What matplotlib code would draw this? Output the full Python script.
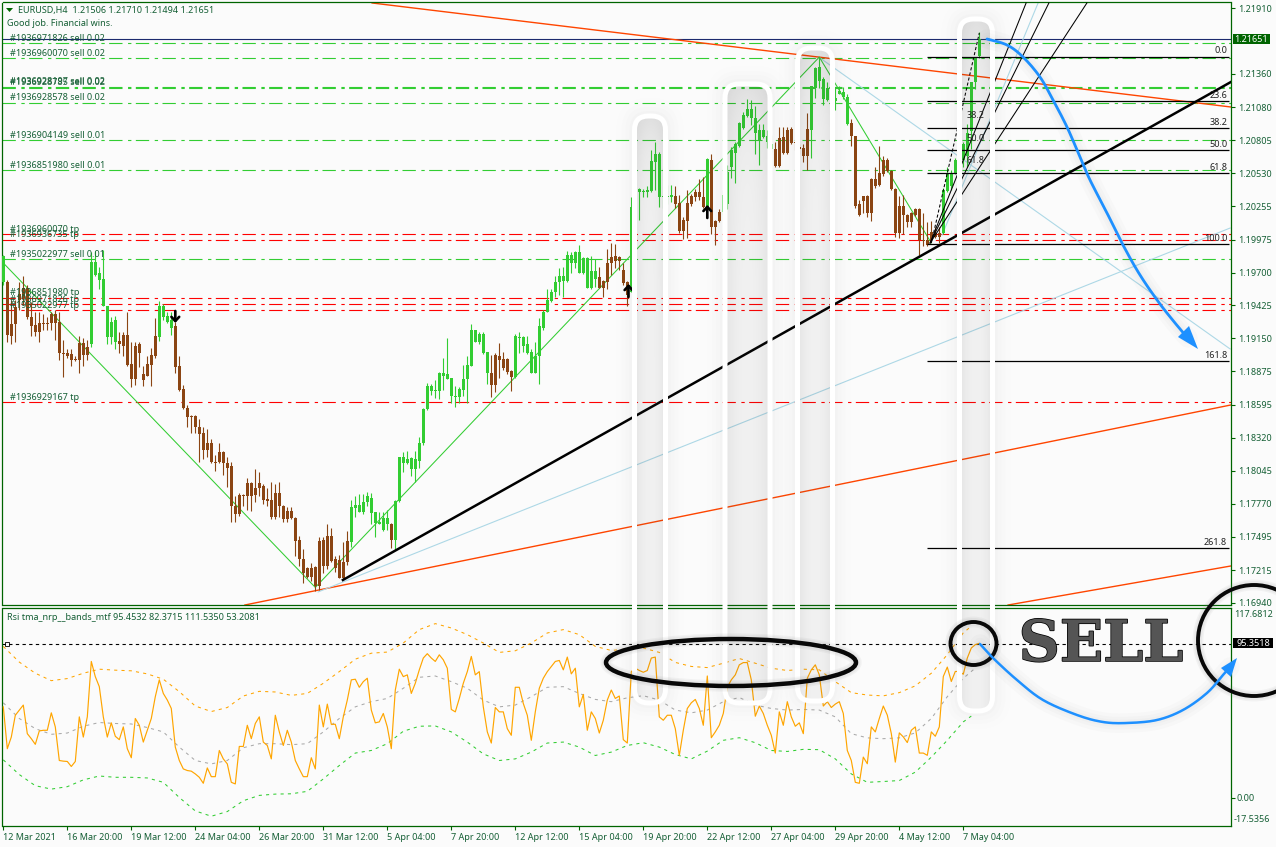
import numpy as np
import matplotlib
matplotlib.use("Agg")
import matplotlib.pyplot as plt
import matplotlib.patheffects as pe
from matplotlib.patches import FancyBboxPatch, Ellipse, Polygon, Rectangle

plt.rcParams['font.family'] = ['Noto Sans', 'DejaVu Sans']

W, H = 1276, 847
BG = '#FBFBFB'
AXIS = '#006400'
TXT = '#155f35'
UP = '#32CD32'
DOWN = '#8B4513'
FS = 6.5

# EURUSD H4 candles, in pips (1.2165 -> 12165)
opens = [
    11962,11962,11927,11941,11952,11957,11957,11933,11926,11928,
    11928,11928,11935,11935,11929,11903,11903,11902,11898,11911,
    11911,11908,11910,11968,11964,11942,11916,11916,11912,11913,
    11918,11918,11894,11909,11910,11885,11894,11901,11917,11916,
    11933,11929,11924,11925,11892,11873,11857,11850,11850,11841,
    11836,11828,11828,11812,11820,11820,11811,11808,11775,11784,
    11784,11794,11794,11790,11794,11792,11781,11780,11786,11786,
    11775,11771,11771,11765,11747,11731,11723,11723,11724,11746,
    11747,11750,11750,11731,11730,11728,11746,11745,11773,11770,
    11770,11778,11769,11761,11760,11755,11760,11760,11747,11779,
    11811,11811,11806,11806,11813,11828,11856,11871,11871,11871,
    11884,11881,11867,11866,11866,11872,11881,11892,11912,11912,
    11903,11886,11886,11901,11900,11898,11898,11888,11883,11915,
    11909,11903,11886,11886,11900,11924,11937,11946,11954,11962,
    11963,11963,11978,11978,11970,11970,11957,11957,11965,11966,
    11963,11978,11983,11984,11983,11972,11962,11954,12025,12037,
    12037,12037,12038,12062,12033,12033,12033,12033,12034,12028,
    12014,12028,12034,12037,12037,12033,12025,12064,12013,12021,
    12021,12027,12058,12070,12076,12091,12101,12099,12087,12080,
    12083,12079,12073,12073,12082,12083,12089,12090,12079,12075,
    12074,12090,12089,12124,12130,12115,12114,12113,12113,12119,
    12117,12094,12095,12084,12027,12034,12034,12048,12048,12053,
    12064,12064,12055,12040,12026,12026,12018,12020,12023,12023,
    11997,11997,12004,12003,12003,12003,12038,12042,12053,12060,
    12064,12067,12088,12129,12151]
highs = [
    11985,11964,11947,11947,11962,11967,11960,11945,11937,11937,
    11935,11933,11937,11939,11937,11914,11906,11906,11900,11917,
    11915,11914,11987,11988,11975,11989,11942,11933,11934,11920,
    11920,11937,11912,11912,11912,11892,11900,11907,11932,11946,
    11944,11937,11937,11929,11900,11876,11859,11851,11851,11848,
    11841,11839,11831,11818,11828,11821,11816,11812,11783,11786,
    11785,11798,11795,11806,11803,11793,11790,11795,11793,11795,
    11776,11774,11774,11766,11750,11739,11724,11727,11725,11749,
    11749,11760,11757,11733,11734,11745,11754,11780,11783,11785,
    11785,11787,11786,11770,11770,11770,11772,11761,11780,11816,
    11820,11821,11816,11821,11833,11857,11878,11877,11880,11887,
    11899,11915,11882,11875,11874,11893,11900,11927,11922,11920,
    11920,11904,11901,11903,11911,11904,11899,11889,11919,11920,
    11917,11917,11906,11912,11932,11939,11956,11956,11967,11974,
    11975,11988,11987,11988,11993,11983,11983,11984,11981,11975,
    11964,11990,11995,11994,11984,11978,11963,12033,12039,12041,
    12040,12042,12072,12079,12071,12057,12043,12043,12042,12035,
    12016,12039,12036,12040,12048,12050,12066,12069,12014,12023,
    12039,12060,12075,12079,12096,12104,12115,12114,12109,12094,
    12094,12089,12085,12079,12092,12092,12092,12092,12079,12077,
    12077,12103,12126,12142,12150,12133,12129,12131,12125,12126,
    12125,12119,12098,12084,12031,12034,12035,12049,12058,12076,
    12067,12066,12056,12041,12034,12035,12019,12021,12024,12024,
    12020,12012,12013,12008,12008,12041,12058,12056,12066,12073,
    12079,12094,12129,12150,12171]
lows = [
    11960,11912,11910,11912,11939,11943,11931,11917,11917,11912,
    11922,11922,11922,11914,11897,11883,11899,11892,11896,11886,
    11892,11897,11908,11967,11956,11942,11910,11910,11906,11903,
    11900,11892,11874,11876,11891,11875,11884,11875,11899,11913,
    11930,11928,11918,11886,11871,11856,11841,11836,11836,11812,
    11814,11816,11811,11804,11811,11801,11791,11762,11762,11767,
    11775,11772,11771,11778,11783,11777,11775,11764,11764,11766,
    11762,11762,11764,11733,11725,11711,11715,11712,11704,11705,
    11719,11722,11728,11720,11715,11714,11726,11741,11766,11770,
    11768,11775,11760,11749,11760,11754,11755,11740,11738,11778,
    11803,11810,11800,11795,11807,11826,11855,11868,11865,11864,
    11872,11881,11861,11858,11861,11867,11861,11892,11912,11910,
    11902,11877,11866,11870,11882,11889,11885,11871,11882,11903,
    11904,11902,11886,11886,11877,11922,11937,11945,11950,11951,
    11950,11962,11970,11974,11970,11969,11957,11956,11958,11957,
    11950,11956,11968,11974,11972,11960,11942,11954,12024,12014,
    12033,12033,12037,12039,12025,12024,12027,12029,12024,12003,
    11998,11999,12026,12030,12031,12024,12024,12002,11993,12012,
    12018,12023,12049,12045,12075,12090,12100,12093,12069,12060,
    12082,12074,12071,12058,12058,12069,12069,12077,12072,12069,
    12062,12056,12066,12116,12124,12110,12113,12111,12106,12119,
    12115,12093,12076,12024,12017,12020,12016,12013,12041,12042,
    12051,12054,12039,12000,11999,12002,12008,12008,12017,11985,
    11992,11992,11996,11999,11995,12002,12037,12039,12052,12058,
    12058,12058,12073,12123,12149]
closes = [
    11984,11918,11917,11927,11947,11949,11933,11925,11920,11920,
    11927,11927,11928,11928,11903,11902,11900,11897,11897,11897,
    11901,11901,11979,11979,11970,11965,11942,11929,11930,11910,
    11909,11893,11881,11881,11903,11880,11884,11893,11900,11942,
    11942,11934,11930,11891,11872,11857,11849,11849,11841,11835,
    11822,11822,11812,11811,11812,11811,11807,11775,11768,11768,
    11783,11783,11783,11784,11790,11780,11779,11766,11766,11775,
    11764,11764,11765,11746,11731,11719,11716,11716,11708,11708,
    11725,11725,11729,11723,11715,11715,11728,11774,11776,11776,
    11778,11783,11782,11770,11762,11765,11765,11747,11779,11816,
    11816,11814,11815,11814,11828,11856,11875,11875,11872,11886,
    11886,11885,11882,11867,11873,11881,11893,11922,11922,11919,
    11919,11904,11876,11876,11897,11890,11887,11883,11917,11916,
    11916,11910,11904,11900,11925,11937,11947,11954,11962,11967,
    11967,11985,11985,11987,11987,11982,11982,11971,11971,11957,
    11957,11962,11978,11980,11980,11961,11951,12025,12038,12040,
    12038,12039,12063,12069,12069,12034,12034,12035,12027,12005,
    12005,12013,12027,12033,12033,12025,12065,12008,12008,12013,
    12035,12054,12072,12077,12095,12102,12107,12107,12099,12089,
    12089,12084,12077,12059,12059,12070,12070,12078,12078,12073,
    12067,12067,12126,12141,12142,12132,12124,12119,12116,12122,
    12121,12117,12084,12026,12018,12030,12020,12020,12042,12043,
    12052,12055,12040,12003,12003,12018,12012,12012,12018,11997,
    11996,11993,11997,12000,12000,12039,12053,12053,12064,12067,
    12077,12087,12129,12150,12165]

rsi = [
    56.2,30.3,37.5,51.0,54.2,57.3,39.6,36.5,33.0,41.3,41.7,41.7,52.5,43.8,23.0,22.6,22.4,19.3,22.4,50.0,
    37.5,50.0,84.3,74.9,68.7,50.0,37.5,46.3,38.0,35.9,43.8,30.3,24.7,49.0,44.8,34.4,41.7,49.0,62.5,72.9,
    64.5,60.4,55.2,31.3,23.0,17.8,16.8,16.4,14.7,12.6,8.9,18.4,13.0,13.0,29.2,24.0,20.9,9.5,8.5,31.7,
    31.7,44.8,36.5,45.9,50.0,34.4,32.3,24.0,51.0,40.7,32.3,41.7,34.4,23.0,17.8,13.0,13.0,24.7,17.8,57.3,
    43.8,57.9,45.4,45.4,36.5,50.0,60.4,72.9,73.3,68.3,71.8,73.9,54.2,46.3,46.9,52.1,43.8,30.3,66.6,79.5,
    74.9,76.0,64.5,70.8,79.1,86.4,89.1,86.4,84.3,88.4,85.3,80.1,54.6,53.1,61.4,70.8,78.0,87.4,76.0,78.0,
    56.2,40.7,33.8,55.8,53.1,53.1,42.7,38.6,68.3,68.3,58.3,51.0,35.5,53.1,67.7,73.9,78.0,81.2,84.3,84.9,
    79.1,87.0,76.6,80.1,56.2,63.9,41.7,53.1,49.0,40.0,47.9,60.4,66.6,61.4,62.9,35.9,33.8,78.0,80.1,78.7,
    77.6,78.7,86.4,87.0,50.0,47.9,51.0,51.0,42.7,26.1,41.7,55.2,58.7,60.8,55.2,44.8,75.3,37.1,40.7,44.8,
    52.1,68.3,72.9,76.0,82.2,83.6,83.6,72.9,50.4,56.7,52.1,44.8,38.6,27.6,53.1,44.8,59.4,50.0,44.2,46.3,
    39.6,73.9,79.1,82.2,76.0,56.7,59.4,55.8,57.9,59.4,52.1,29.2,23.0,9.5,8.9,25.1,21.0,43.8,40.7,49.0,
    56.7,51.1,39.7,22.0,40.1,37.6,34.1,41.7,43.8,27.6,27.6,26.2,40.7,38.0,43.8,75.0,80.8,71.9,78.1,78.1,
    76.4,86.4,92.6,94.7,95.5]

# bands read every 4th bar, last reading is the bar given in *_last
band_bars = list(range(0, 241, 4))
upper_band = [
    93.6,83.9,77.0,72.4,73.7,77.0,79.5,78.9,78.5,76.6,73.3,65.6,56.7,53.3,55.8,62.9,65.8,65.4,63.3,64.5,
    70.8,78.0,85.7,89.4,90.1,95.7,104.0,107.7,105.0,100.9,95.7,89.9,90.9,95.7,101.9,104.0,100.9,93.6,91.1,92.0,
    92.6,89.9,83.7,81.2,80.5,83.2,86.1,83.2,80.1,78.7,79.5,79.1,71.8,65.0,63.5,63.0,65.0,69.2,77.0,88.5,102.0]
upper_last = (242, 106.1)
mid_band = [
    58.7,49.0,42.7,39.2,40.0,44.2,46.5,45.9,45.6,43.4,40.7,31.3,23.0,20.9,23.0,30.9,33.4,33.4,32.8,33.4,
    40.7,49.0,56.2,59.4,61.4,67.7,74.5,75.3,71.8,67.7,60.4,56.2,57.3,62.5,68.3,68.7,64.5,60.8,59.4,61.8,
    63.1,60.4,54.2,52.5,54.2,59.4,62.0,57.3,55.2,54.2,54.6,54.2,50.0,39.6,37.0,36.5,37.0,40.1,49.0,62.5,73.9]
mid_last = (243, 80.2)
lower_band = [
    23.4,14.3,7.4,5.3,6.8,11.0,13.4,12.6,12.6,12.2,9.5,0.1,-8.2,-11.5,-8.6,-1.9,1.4,2.2,2.4,3.9,
    11.6,19.9,27.6,29.2,33.4,41.1,44.2,44.4,40.7,34.4,27.1,23.0,24.0,28.2,33.8,34.4,31.3,26.1,28.2,32.3,
    34.0,31.3,26.7,24.0,28.8,35.5,37.1,34.0,29.2,28.6,29.9,29.7,24.0,14.7,9.5,10.0,10.6,15.8,25.1,35.5,46.9]
lower_last = (242, 50.5)

date_labels = ['12 Mar 2021', '16 Mar 20:00', '19 Mar 12:00', '24 Mar 04:00', '26 Mar 20:00', '31 Mar 12:00',
               '5 Apr 04:00', '7 Apr 20:00', '12 Apr 12:00', '15 Apr 04:00', '19 Apr 20:00', '22 Apr 12:00',
               '27 Apr 04:00', '29 Apr 20:00', '4 May 12:00', '7 May 04:00']
price_ticks = [1.21910, 1.21360, 1.21080, 1.20805, 1.20530, 1.20255, 1.19975, 1.19700, 1.19425, 1.19150,
               1.18875, 1.18595, 1.18320, 1.18045, 1.17770, 1.17495, 1.17215, 1.16940]

# order lines and their labels
sell_levels = [1.21615, 1.21490, 1.21250, 1.21240, 1.21120, 1.20805, 1.20555, 1.19811]
tp_levels = [1.20020, 1.19972, 1.19490, 1.19435, 1.19385, 1.18617]
order_labels = [('#1936971826 sell 0.02', 1.21615), ('#1936960070 sell 0.02', 1.21490),
                ('#1936928197 sell 0.02', 1.21250), ('#1936928785 sell 0.02', 1.21245),
                ('#1936928578 sell 0.02', 1.21120), ('#1936904149 sell 0.01', 1.20805),
                ('#1936851980 sell 0.01', 1.20555), ('#1936960070 tp', 1.20020),
                ('#1936936735 tp', 1.19972), ('#1935022977 sell 0.01', 1.19811),
                ('#1936851980 tp', 1.19490), ('#1936971826 tp', 1.19435),
                ('#1935022977 tp', 1.19385), ('#1936929167 tp', 1.18617)]

# trend lines as (bar, price) pairs
zigzag = [(0, 1.19780), (78, 1.17070), (204, 1.21500), (232, 1.19947), (244, 1.21701)]
red_lines = [[(92.2, 1.21952), (306.9, 1.21083)], [(60.4, 1.16923), (306.9, 1.18594)],
             [(251.2, 1.16923), (306.9, 1.17249)]]
main_trend = [(84.9, 1.17132), (306.9, 1.21292)]
pale_lines = [[(78.7, 1.17032), (306.7, 1.20072)], [(204.2, 1.21492), (306.7, 1.19062)],
              [(234.7, 1.20014), (258.7, 1.21952)]]
fan_start = (231.7, 1.19947)
fan_ends = [(255.7, 1.21952), (261.4, 1.21952), (270.9, 1.21952)]

fib_levels = [1.21503, 1.21131, 1.20905, 1.20722, 1.20529, 1.19936, 1.18962, 1.17399]
fib_names = ['0.0', '23.6', '38.2', '50.0', '61.8', '100.0', '161.8', '261.8']
fan_names = [('38.2', 1.21008), ('50.0', 1.20816), ('61.8', 1.20632)]

# hand drawn marks on top of the chart, in screen pixels
bands_px = [(634.5, 116, 665.5, 703), (725, 84, 770, 703), (797.5, 48, 832.5, 701), (959.5, 19, 992.5, 711)]
arrow_a = [(987, 39), (1007, 45), (1023, 57), (1040, 77), (1053, 100), (1067, 127), (1080, 157), (1090, 180),
           (1107, 213), (1123, 245), (1140, 275), (1160, 304), (1180, 329), (1188, 338)]
arrow_b = [(980, 644), (993, 658), (1017, 680), (1043, 700), (1077, 715), (1103, 722), (1127, 723), (1157, 720),
           (1183, 710), (1207, 693), (1223, 675), (1230, 667)]

fig = plt.figure(figsize=(W / 100, H / 100), dpi=100, facecolor=BG)


def make_axes(top, bottom, left=2.5, right=1230.5):
    return fig.add_axes([left / W, 1 - bottom / H, (right - left) / W, (bottom - top) / H], facecolor=BG)


def smooth(pts, n=12):
    # catmull-rom through the read points so the arrows do not look kinked
    p = np.array([pts[0]] + list(pts) + [pts[-1]], dtype=float)
    out = []
    for i in range(1, len(p) - 2):
        for t in np.linspace(0, 1, n, endpoint=False):
            out.append(0.5 * (2 * p[i] + (p[i + 1] - p[i - 1]) * t
                              + (2 * p[i - 1] - 5 * p[i] + 4 * p[i + 1] - p[i + 2]) * t ** 2
                              + (3 * p[i] - p[i - 1] - 3 * p[i + 1] + p[i + 2]) * t ** 3))
    out.append(p[-1])
    return np.array(out)


ax = make_axes(2.5, 605)
ax_rsi = make_axes(607.5, 826)
for a in (ax, ax_rsi):
    a.set_xlim(-0.2, 306.8)
    for s in a.spines.values():
        s.set_color(AXIS)
        s.set_linewidth(0.9)
ax.set_ylim(1.16923, 1.21956)
ax_rsi.set_ylim(-17.5356, 117.6812)

# price pane
o = np.array(opens) / 10000
h = np.array(highs) / 10000
l = np.array(lows) / 10000
c = np.array(closes) / 10000
bars = np.arange(len(o))
colors = [UP if c[i] >= o[i] else DOWN for i in bars]

ORDER_DASH = (0, (12, 5, 3, 4))
for p in sell_levels:
    ax.axhline(p, color=UP, lw=0.8, ls=ORDER_DASH, zorder=1)
for p in tp_levels:
    ax.axhline(p, color='#FF0000', lw=0.8, ls=ORDER_DASH, zorder=1)
ax.axhline(c[-1], color='#1C2A6E', lw=0.8, zorder=1)
for name, p in order_labels:
    ax.annotate(name, (0, p), xytext=(4.6, 0.4), textcoords='offset points', fontsize=FS, color=TXT,
                va='bottom', ha='left', zorder=6)

for seg in red_lines:
    ax.plot(*zip(*seg), color='#FF4500', lw=1.0, zorder=2)
for seg in pale_lines:
    ax.plot(*zip(*seg), color='#ADD8E6', lw=0.8, zorder=2)
ax.plot(*zip(*zigzag[:4]), color=UP, lw=0.75, zorder=2)
ax.plot(*zip(*zigzag[3:]), color='black', lw=0.75, ls=(0, (3, 2)), zorder=4)

ax.vlines(bars, l, h, colors=colors, lw=0.8, zorder=3)
ax.bar(bars, np.maximum(np.abs(c - o), 0.00009), bottom=np.minimum(o, c), width=0.72, color=colors,
       linewidth=0, zorder=3)

ax.plot(*zip(*main_trend), color='black', lw=1.8, zorder=4)
for end in fan_ends:
    ax.plot(*zip(fan_start, end), color='black', lw=0.75, zorder=4)
ax.hlines(fib_levels, 231, 306.3, color='black', lw=0.9, zorder=4)
for name, p in zip(fib_names, fib_levels):
    ax.annotate(name, (306.3, p), xytext=(-1, 1), textcoords='offset points', fontsize=FS, color='#222222',
                ha='right', va='bottom', zorder=5)
for name, p in fan_names:
    ax.text(243, p, name, fontsize=FS, color='#222222', ha='center', va='center', zorder=5)

for bar, y0, y1 in [(43, 1.19379, 1.19279), (156.3, 1.19496, 1.19605), (176, 1.20156, 1.20265)]:
    ax.annotate('', xy=(bar, y1), xytext=(bar, y0), zorder=5,
                arrowprops=dict(arrowstyle='->,head_width=0.28,head_length=0.3', color='black', lw=1.9,
                                shrinkA=0, shrinkB=0))

ax.set_xticks([])
ax.yaxis.tick_right()
ax.set_yticks(price_ticks)
ax.set_yticklabels(['%.5f' % p for p in price_ticks])
ax.tick_params(axis='y', length=3, width=0.8, color=AXIS, labelcolor=TXT, labelsize=FS, pad=2.5)

# indicator pane
ax_rsi.axhline(rsi[-1] - 0.15, color='black', lw=0.8, ls=(0, (3, 3)), zorder=1)
ax_rsi.plot(1, 95.3, marker='s', ms=3, mfc='none', mec='black', mew=0.6, zorder=2)
ax_rsi.plot(band_bars + [upper_last[0]], upper_band + [upper_last[1]], color='#FFA500', lw=0.75,
            ls=(0, (3, 4)), zorder=2)
ax_rsi.plot(band_bars + [mid_last[0]], mid_band + [mid_last[1]], color='#A9A9A9', lw=0.75,
            ls=(0, (3, 4)), zorder=2)
ax_rsi.plot(band_bars + [lower_last[0]], lower_band + [lower_last[1]], color=UP, lw=0.75,
            ls=(0, (3, 4)), zorder=2)
ax_rsi.plot(bars, rsi, color='#FFA500', lw=0.85, zorder=3)

ax_rsi.yaxis.tick_right()
ax_rsi.set_yticks([0])
ax_rsi.set_yticklabels(['0.00'])
ax_rsi.set_xticks(bars[::16])
ax_rsi.set_xticklabels(date_labels, ha='left')
ax_rsi.tick_params(axis='x', length=3, width=0.8, color=AXIS, labelcolor=TXT, labelsize=FS, pad=1.8)
ax_rsi.tick_params(axis='y', length=3, width=0.8, color=AXIS, labelcolor=TXT, labelsize=FS, pad=1.5)

# overlay in pixel coordinates for the drawn-on marks
ov = fig.add_axes([0, 0, 1, 1], facecolor='none', zorder=10)
ov.set_xlim(0, W)
ov.set_ylim(H, 0)
ov.axis('off')

for x0, y0, x1, y1 in bands_px:
    for grow, alpha in [(18, 0.008), (13, 0.012), (9, 0.016), (5, 0.02)]:
        ov.add_patch(FancyBboxPatch((x0 - grow, y0 - grow), x1 - x0 + 2 * grow, y1 - y0 + 2 * grow,
                                    boxstyle='round,pad=0,rounding_size=%d' % (14 + grow),
                                    fc='#808080', ec='none', alpha=alpha, zorder=1))
    inner = FancyBboxPatch((x0, y0), x1 - x0, y1 - y0, boxstyle='round,pad=0,rounding_size=14',
                           fc='none', ec='none', zorder=2)
    ov.add_patch(inner)
    xx = np.abs(np.linspace(-1, 1, 40))
    yy = np.exp(-np.linspace(0, 1, 200) * 14)
    shade = 0.012 + 0.05 * xx[None, :] ** 2 + 0.07 * yy[:, None]
    rgba = np.zeros((200, 40, 4))
    rgba[..., 3] = shade
    im = ov.imshow(rgba, extent=(x0, x1, y1, y0), aspect='auto', zorder=2, interpolation='bilinear')
    im.set_clip_path(inner)
    ov.add_patch(FancyBboxPatch((x0, y0), x1 - x0, y1 - y0, boxstyle='round,pad=0,rounding_size=14',
                                fc='none', ec='white', lw=3.6, zorder=3))
ov.set_xlim(0, W)
ov.set_ylim(H, 0)


def soft_stroke(widths=(7, 5, 3.5), alpha=0.05):
    return [pe.Stroke(linewidth=w, foreground='#808080', alpha=alpha) for w in widths] + [pe.Normal()]


for cx, cy, ew, eh, lw in [(731, 662.5, 250, 47, 3.2), (973.5, 643.5, 46, 43, 2.8), (1254, 640.5, 112, 111, 2.8)]:
    ov.add_patch(Ellipse((cx, cy), ew, eh, fc='none', ec='#080808', lw=lw, zorder=5, clip_on=True,
                         path_effects=soft_stroke((lw + 5, lw + 3), 0.07)))

BLUE = '#1E90FF'
for pts, lw in [(arrow_a, 2.0), (arrow_b, 1.8)]:
    curve = smooth(pts)
    ov.plot(curve[:, 0], curve[:, 1], color=BLUE, lw=lw, zorder=6, solid_capstyle='round',
            path_effects=soft_stroke((14, 9, 5), 0.03))
ov.add_patch(Polygon([(1198, 349), (1178, 337), (1189, 326)], fc=BLUE, ec='none', zorder=6))
ov.add_patch(Polygon([(1237, 658), (1221, 668), (1231, 677)], fc=BLUE, ec='none', zorder=6))

ov.text(1101, 645, 'SELL', family='DejaVu Serif', fontweight='bold', fontsize=41, color='#555555', ha='center',
        va='center', zorder=6, path_effects=[pe.withStroke(linewidth=1.1, foreground='black')])

# header texts
ov.add_patch(Polygon([(6, 8), (13, 8), (9.5, 12)], fc=AXIS, ec='none', zorder=8))
ov.text(18, 10.5, 'EURUSD,H4  1.21506 1.21710 1.21494 1.21651', fontsize=FS, color=TXT, va='center', zorder=8)
ov.text(7, 23.5, 'Good job. Financial wins.', fontsize=FS, color=TXT, va='center', zorder=8)
ov.text(7, 617, 'Rsi tma_nrp__bands_mtf 95.4532 82.3715 111.5350 53.2081', fontsize=FS, color=TXT, va='center', zorder=8)

# right side price tags
ov.add_patch(Rectangle((1232.5, 34.5), 37, 10, fc=AXIS, ec='none', zorder=8))
ov.text(1251, 39.6, '1.21651', color='white', fontsize=FS, ha='center', va='center', zorder=9)
ov.add_patch(Rectangle((1233, 638.5), 40, 10, fc='black', ec='none', zorder=8))
ov.text(1253, 643.5, '95.3518', color='white', fontsize=FS, ha='center', va='center', zorder=9)
ov.text(1234, 614.5, '117.6812', color=TXT, fontsize=FS, va='center', zorder=8)
ov.text(1234, 819.5, '-17.5356', color=TXT, fontsize=FS, va='center', zorder=8)

fig.savefig('out.png', dpi=100, facecolor=BG)
